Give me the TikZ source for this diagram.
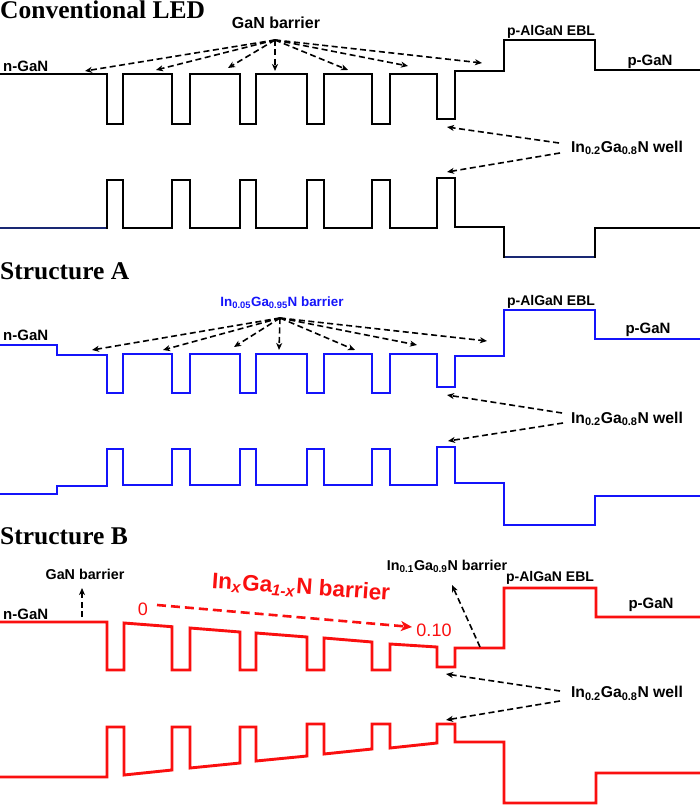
\documentclass[tikz,border=0pt]{standalone}
\usepackage{fontspec}
\setmainfont{Liberation Serif}
\setsansfont{Liberation Sans}
\usetikzlibrary{arrows.meta}
\definecolor{bandblue}{RGB}{20,20,250}
\definecolor{bandred}{RGB}{250,15,15}
\definecolor{bandnavy}{RGB}{25,40,115}
\tikzset{
  band/.style={line width=2.9pt, line join=miter},
  darrow/.style={line width=1.6pt, dash pattern=on 6pt off 3.5pt, -{Stealth[length=7pt,width=6pt,inset=2pt]}},
  rarrow/.style={bandred, line width=2.6pt, dash pattern=on 9pt off 5pt, -{Stealth[length=11pt,width=10pt,inset=3pt]}},
  ttl/.style={inner sep=0pt, anchor=base west, font=\rmfamily\bfseries\fontsize{25.5}{28}\selectfont},
  lbl/.style={inner sep=0pt, font=\sffamily\bfseries\fontsize{15}{17}\selectfont},
  lbls/.style={inner sep=0pt, font=\sffamily\bfseries\fontsize{14}{16}\selectfont}
}
\begin{document}
\begin{tikzpicture}[x=1pt,y=-1pt]
\useasboundingbox (0,0) rectangle (700,805);

% ================= Conventional LED =================
\node[ttl] (tC) at (0,19) {Conventional LED};
\node[lbl, font=\sffamily\bfseries\fontsize{16}{18}\selectfont] (gC) at (276,23) {GaN barrier};
\node[lbl, anchor=west] (nC) at (3,66) {n-GaN};
\node[lbl] (pC) at (650,62) {p-GaN};
\node[lbls] (eC) at (551,32) {p-AlGaN EBL};
\node[lbl, font=\sffamily\bfseries\fontsize{15.7}{18}\selectfont] (wC) at (627,148) {In\textsubscript{0.2}Ga\textsubscript{0.8}N well};

\draw[band] (0,74) -- (107,74) -- (107,124) -- (123,124) -- (123,74) -- (172,74) -- (172,124) -- (190,124) -- (190,74)
  -- (240,74) -- (240,124) -- (256,124) -- (256,74) -- (307,74) -- (307,124) -- (324,124) -- (324,74)
  -- (372,74) -- (372,124) -- (390,124) -- (390,74) -- (437,74) -- (437,119) -- (455,119) -- (455,71)
  -- (504,71) -- (504,40) -- (595,40) -- (595,70) -- (700,70);
\draw[band] (0,228) -- (107,228) -- (107,180) -- (123,180) -- (123,228) -- (172,228) -- (172,180) -- (190,180) -- (190,228)
  -- (240,228) -- (240,180) -- (256,180) -- (256,228) -- (307,228) -- (307,180) -- (324,180) -- (324,228)
  -- (372,228) -- (372,180) -- (390,180) -- (390,228) -- (437,228) -- (437,178) -- (455,178) -- (455,227)
  -- (504,227) -- (504,257) -- (595,257) -- (595,228) -- (700,228);
\draw[band, bandnavy] (0,228) -- (105.6,228);
\draw[band, bandnavy] (505.4,257) -- (593.6,257);

\coordinate (sC) at (275,40);
\coordinate (tC1) at (85,71);
\coordinate (tC2) at (156,70);
\coordinate (tC3) at (228,68);
\coordinate (tC4) at (275,71);
\coordinate (tC5) at (348,70);
\coordinate (tC6) at (408,66);
\coordinate (tC7) at (482,63);
\draw[darrow] (sC) -- (tC1);
\draw[darrow] (sC) -- (tC2);
\draw[darrow] (sC) -- (tC3);
\draw[darrow] (sC) -- (tC4);
\draw[darrow] (sC) -- (tC5);
\draw[darrow] (sC) -- (tC6);
\draw[darrow] (sC) -- (tC7);
\coordinate (wCa) at (559,143); \coordinate (wCat) at (447,127);
\coordinate (wCb) at (560,153); \coordinate (wCbt) at (447,172);
\draw[darrow] (wCa) -- (wCat);
\draw[darrow] (wCb) -- (wCbt);

% ================= Structure A =================
\node[ttl] (tA) at (0,279) {Structure A};
\node[lbl, bandblue, font=\sffamily\bfseries\fontsize{13.4}{16}\selectfont] (gA) at (282,303) {In\textsubscript{0.05}Ga\textsubscript{0.95}N barrier};
\node[lbl, anchor=west] (nA) at (3,335) {n-GaN};
\node[lbl] (pA) at (648,330) {p-GaN};
\node[lbls] (eA) at (551,302) {p-AlGaN EBL};
\node[lbl, font=\sffamily\bfseries\fontsize{15.7}{18}\selectfont] (wA) at (627,419) {In\textsubscript{0.2}Ga\textsubscript{0.8}N well};

\draw[band, bandblue] (0,345) -- (57,345) -- (57,355) -- (107,355) -- (107,393) -- (123,393) -- (123,354) -- (172,354) -- (172,393) -- (190,393) -- (190,354)
  -- (240,354) -- (240,393) -- (256,393) -- (256,354) -- (307,354) -- (307,393) -- (324,393) -- (324,354)
  -- (372,354) -- (372,393) -- (390,393) -- (390,354) -- (437,354) -- (437,387) -- (455,387) -- (455,356)
  -- (504,356) -- (504,310) -- (595,310) -- (595,339) -- (700,339);
\draw[band, bandblue] (0,494) -- (57,494) -- (57,486) -- (107,486) -- (107,449) -- (123,449) -- (123,485) -- (172,485) -- (172,449) -- (190,449) -- (190,485)
  -- (240,485) -- (240,449) -- (256,449) -- (256,485) -- (307,485) -- (307,449) -- (324,449) -- (324,485)
  -- (372,485) -- (372,449) -- (390,449) -- (390,485) -- (437,485) -- (437,447) -- (455,447) -- (455,483)
  -- (504,483) -- (504,525) -- (595,525) -- (595,496) -- (700,496);

\coordinate (sA) at (280,318);
\coordinate (tA1) at (92,350);
\coordinate (tA2) at (163,350);
\coordinate (tA3) at (234,347);
\coordinate (tA4) at (279,350);
\coordinate (tA5) at (355,350);
\coordinate (tA6) at (417,345);
\coordinate (tA7) at (487,341);
\draw[darrow] (sA) -- (tA1);
\draw[darrow] (sA) -- (tA2);
\draw[darrow] (sA) -- (tA3);
\draw[darrow] (sA) -- (tA4);
\draw[darrow] (sA) -- (tA5);
\draw[darrow] (sA) -- (tA6);
\draw[darrow] (sA) -- (tA7);
\coordinate (wAa) at (562,413); \coordinate (wAat) at (447,395);
\coordinate (wAb) at (563,423); \coordinate (wAbt) at (448,441);
\draw[darrow] (wAa) -- (wAat);
\draw[darrow] (wAb) -- (wAbt);

% ================= Structure B =================
\node[ttl] (tB) at (0,544) {Structure B};
\node[lbls, font=\sffamily\bfseries\fontsize{14.3}{16}\selectfont] (gB) at (85,574) {GaN barrier};
\node[lbl, anchor=west] (nB) at (3,614) {n-GaN};
\node[lbl] (pB) at (651,605) {p-GaN};
\node[lbls] (eB) at (550,578) {p-AlGaN EBL};
\node[lbls, font=\sffamily\bfseries\fontsize{14.3}{16}\selectfont] (bB) at (447,566) {In\textsubscript{0.1}Ga\textsubscript{0.9}N barrier};
\node[lbl, font=\sffamily\bfseries\fontsize{15.7}{18}\selectfont] (wB) at (627,693) {In\textsubscript{0.2}Ga\textsubscript{0.8}N well};
\node[inner sep=0pt, bandred, rotate=-4, font=\sffamily\bfseries\fontsize{22.5}{25}\selectfont] (xB) at (301,588)
  {In\textsubscript{\itshape x\kern1pt}Ga\textsubscript{\itshape 1-x\kern1pt}N barrier};
\node[inner sep=0pt, bandred, font=\sffamily\fontsize{18}{20}\selectfont] (zB) at (143,609) {0};
\node[inner sep=0pt, bandred, font=\sffamily\fontsize{18}{20}\selectfont] (oB) at (434,630) {0.10};

\draw[band, bandred] (0,622) -- (107,622) -- (107,670) -- (124,670) -- (124,623) -- (172,626.7) -- (172,670) -- (190,670) -- (190,628)
  -- (240,632) -- (240,670) -- (256,670) -- (256,633) -- (307,637) -- (307,670) -- (324,670) -- (324,638)
  -- (372,642) -- (372,670) -- (390,670) -- (390,644) -- (437,647) -- (437,667) -- (455,667) -- (455,648)
  -- (504,648) -- (504,588) -- (596,588) -- (596,617) -- (700,617);
\draw[band, bandred] (0,777) -- (107,777) -- (107,727) -- (124,727) -- (124,775) -- (172,770) -- (172,727) -- (190,727) -- (190,768)
  -- (240,763) -- (240,727) -- (256,727) -- (256,761) -- (307,756) -- (307,724) -- (324,724) -- (324,754)
  -- (372,749) -- (372,724) -- (390,724) -- (390,748) -- (437,743) -- (437,724) -- (455,724) -- (455,742)
  -- (504,742) -- (504,803) -- (596,803) -- (596,773) -- (700,773);

\coordinate (gBs) at (82,617); \coordinate (gBt) at (82,588);
\draw[darrow] (gBs) -- (gBt);
\coordinate (bBs) at (480,647); \coordinate (bBt) at (452,585);
\draw[darrow] (bBs) -- (bBt);
\coordinate (rs) at (157,605); \coordinate (rt) at (412,627);
\draw[rarrow] (rs) -- (rt);
\coordinate (wBa) at (560,691); \coordinate (wBat) at (446,674);
\coordinate (wBb) at (560,701); \coordinate (wBbt) at (446,720);
\draw[darrow] (wBa) -- (wBat);
\draw[darrow] (wBb) -- (wBbt);
\end{tikzpicture}
\end{document}
